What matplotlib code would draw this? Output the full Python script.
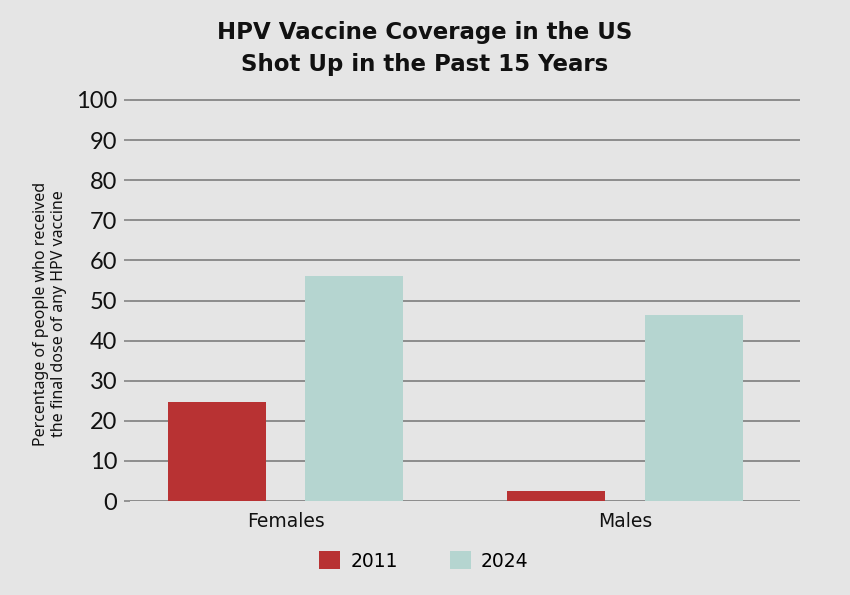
import matplotlib
matplotlib.use("Agg")
import matplotlib.pyplot as plt
import numpy as np
from matplotlib.patches import Patch

categories = ["Females", "Males"]
years = ["2011", "2024"]
values_2011 = [24.8, 2.6]
values_2024 = [56.2, 46.4]
yticks = [0, 10, 20, 30, 40, 50, 60, 70, 80, 90, 100]

title = "HPV Vaccine Coverage in the US\nShot Up in the Past 15 Years"
ylabel = "Percentage of people who received\nthe final dose of any HPV vaccine"

c2011 = "#B83233"
c2024 = "#B5D5D0"
bg = "#E5E5E5"
grid_c = "#8C8C8C"

W, H = 850, 595
fig = plt.figure(figsize=(W / 100, H / 100), dpi=100, facecolor=bg)

# axes in pixel coords
x0, x1 = 130, 800
y0 = 501
ppu = 4.01
ymax = 100.6
ytop = y0 - ymax * ppu
ax = fig.add_axes([x0 / W, 1 - y0 / H, (x1 - x0) / W, (y0 - ytop) / H])
ax.set_facecolor(bg)

x = np.arange(len(categories))
bw = 0.289
off = 0.2025
ax.bar(x - off, values_2011, bw, color=c2011, zorder=3, label=years[0])
ax.bar(x + off, values_2024, bw, color=c2024, zorder=3, label=years[1])

ax.set_xlim(-0.458, 1.515)
ax.set_ylim(0, ymax)
ax.set_yticks(yticks)
ax.set_yticklabels([str(v) for v in yticks], fontsize=17, family="Lato", color="#111111")
ax.set_xticks(x)
ax.set_xticklabels(categories, fontsize=13.5, family="DejaVu Sans", color="#111111")
ax.tick_params(axis="x", length=0, pad=8)
ax.tick_params(axis="y", length=4, width=1.3, color=grid_c, pad=5)
ax.yaxis.grid(True, color=grid_c, linewidth=1.4, zorder=0)
ax.set_axisbelow(True)
for s in ax.spines.values():
    s.set_visible(False)

fig.text(425 / W, 1 - 48 / H, title, ha="center", va="center", fontsize=16.5,
         fontweight="bold", family="DejaVu Sans", color="#111111", linespacing=1.5)

fig.text(50 / W, 1 - 314 / H, ylabel, ha="center", va="center", rotation=90,
         fontsize=11.5, family="Noto Sans", color="#111111", linespacing=1.15)

handles = [Patch(facecolor=c2011, edgecolor="none"), Patch(facecolor=c2024, edgecolor="none")]
leg = fig.legend(handles, years, loc="center", bbox_to_anchor=(424 / W, 1 - 561 / H),
                 ncol=2, frameon=False, prop={"family": "DejaVu Sans", "size": 13.5},
                 handlelength=1.1, handleheight=1.1, columnspacing=2.8, handletextpad=0.55)

fig.savefig("out.png", dpi=100, facecolor=bg)
